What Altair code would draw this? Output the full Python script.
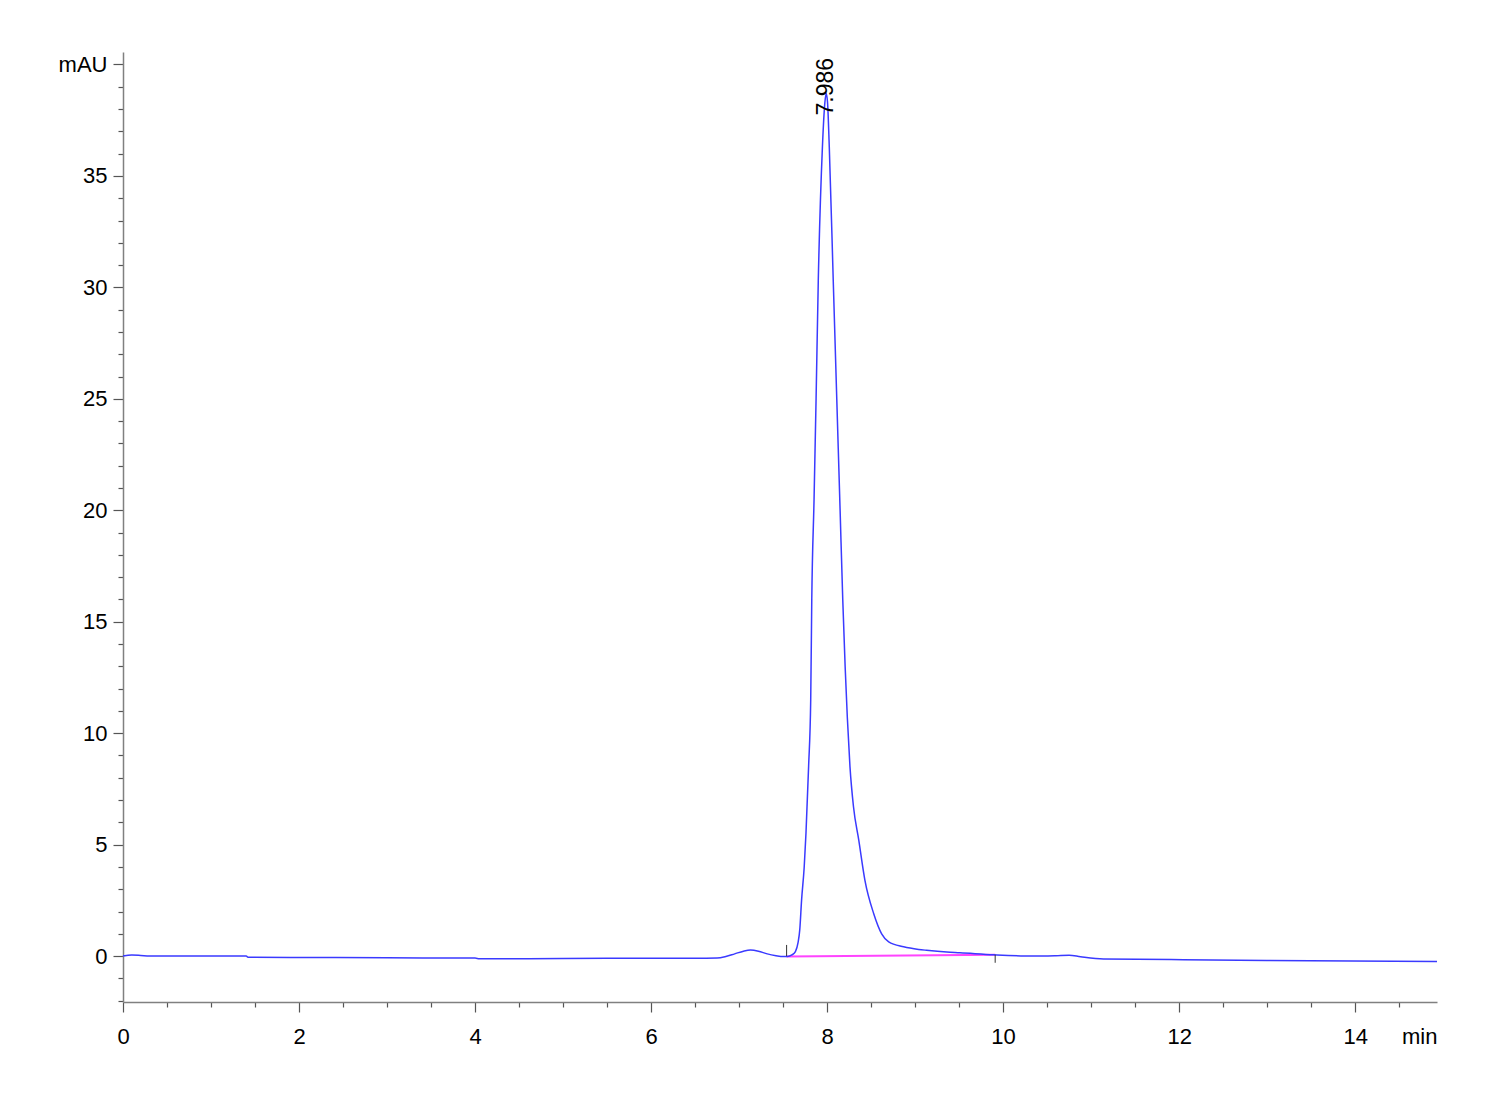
import altair as alt
import pandas as pd

# Chromatogram trace (retention time in min, absorbance in mAU)
rt = [0.00, 0.10, 0.20, 0.30, 1.40, 1.42, 2.0, 3.0, 4.0, 4.05, 5.0, 5.5, 6.0, 6.5,
      6.75, 6.85, 6.95, 7.05, 7.13, 7.22, 7.32, 7.42, 7.50, 7.55, 7.60, 7.64, 7.67,
      7.69, 7.71, 7.74, 7.76, 7.79, 7.814, 7.826, 7.852, 7.875, 7.90, 7.947, 7.975,
      7.99, 8.005, 8.025, 8.07, 8.11, 8.148, 8.178, 8.205, 8.23, 8.26, 8.30, 8.36,
      8.43, 8.53, 8.62, 8.70, 8.87, 9.04, 9.13, 9.36, 9.51, 9.89, 10.34, 10.6, 10.75,
      10.88, 11.14, 12.05, 13.49, 14.93]
mau = [0.00, 0.05, 0.03, 0.00, 0.00, -0.05, -0.06, -0.08, -0.09, -0.12, -0.11, -0.10,
       -0.10, -0.10, -0.09, -0.02, 0.10, 0.22, 0.27, 0.22, 0.10, 0.02, -0.02, -0.02,
       0.05, 0.2, 0.6, 1.2, 2.5, 4.0, 5.5, 8.5, 11.5, 16.0, 20.5, 25.0, 30.3, 36.3,
       38.3, 38.7, 38.3, 36.3, 30.3, 25.0, 20.0, 16.0, 13.0, 10.7, 8.5, 6.7, 5.2,
       3.4, 1.9, 1.0, 0.64, 0.42, 0.30, 0.26, 0.18, 0.15, 0.06, 0.0, 0.02, 0.04, -0.03,
       -0.13, -0.16, -0.21, -0.24]

# Integration baseline and peak markers
base_t = [7.54, 9.91]
base_v = [-0.02, 0.06]
mark_t = [7.54, 9.91]
mark_v1 = [0.0, 0.06]
mark_v2 = [0.5, -0.3]

peak_rt = [7.986]
peak_h = [38.7]
peak_lbl = ["7.986"]

x_ticks = [i * 0.5 for i in range(30)] + [14.93]
y_ticks = list(range(-2, 41))

trace = pd.DataFrame({"t": rt, "v": mau})
base = pd.DataFrame({"t": base_t, "v": base_v})
marks = pd.DataFrame({"t": mark_t, "v1": mark_v1, "v2": mark_v2})
peak = pd.DataFrame({"t": peak_rt, "v": peak_h, "lbl": peak_lbl})

FONT = "Liberation Sans"

xscale = alt.Scale(domain=[0, 14.93], nice=False, zero=False)
yscale = alt.Scale(domain=[-2.06, 40.56], nice=False, zero=False)

xaxis = alt.Axis(
    values=x_ticks, tickCount=200, grid=False, title=None,
    labelExpr="datum.value > 14.8 ? 'min' : (datum.value % 2 === 0 ? format(datum.value, 'd') : '')",
    labelAlign={"condition": {"test": "datum.value > 14.8", "value": "right"}, "value": "center"},
    tickSize={"condition": {"test": "datum.value % 2 === 0 || datum.value > 14.8", "value": 10}, "value": 5},
    tickOpacity={"condition": {"test": "datum.value > 14.8", "value": 0}, "value": 1},
    labelFlush=False, labelOverlap=False, labelPadding=14,
    labelFont=FONT, labelFontSize=22, labelColor="black",
    domainColor="#808080", domainWidth=1.5, tickColor="#555555", tickWidth=1.2,
)
yaxis = alt.Axis(
    values=y_ticks, tickCount=200, grid=False, title=None,
    labelExpr="datum.value === 40 ? 'mAU' : (datum.value % 5 === 0 ? format(datum.value, 'd') : '')",
    tickSize={"condition": {"test": "datum.value % 5 === 0", "value": 10}, "value": 5},
    labelOverlap=False, labelPadding=6, labelFlush=False,
    labelFont=FONT, labelFontSize=22, labelColor="black",
    domainColor="#808080", domainWidth=1.5, tickColor="#555555", tickWidth=1.2,
    minExtent=100, maxExtent=100,
)

baseline = alt.Chart(base).mark_line(color="#ff44ff", strokeWidth=2).encode(
    x=alt.X("t:Q", scale=xscale, axis=xaxis),
    y=alt.Y("v:Q", scale=yscale, axis=yaxis),
)

line = alt.Chart(trace).mark_line(color="#3a3aff", strokeWidth=1.5, interpolate="monotone").encode(
    x=alt.X("t:Q", scale=xscale),
    y=alt.Y("v:Q", scale=yscale),
)

ticks = alt.Chart(marks).mark_rule(color="#333333", strokeWidth=1).encode(
    x=alt.X("t:Q", scale=xscale),
    y=alt.Y("v1:Q", scale=yscale),
    y2="v2:Q",
)

label = alt.Chart(peak).mark_text(
    angle=270, align="left", baseline="middle", dx=-22,
    font=FONT, fontSize=23, color="black",
).encode(
    x=alt.X("t:Q", scale=xscale),
    y=alt.Y("v:Q", scale=yscale),
    text="lbl:N",
)

chart = alt.layer(baseline, line, ticks, label).properties(
    width=1314, height=950,
    padding={"top": 44, "left": 15, "right": 20, "bottom": 10},
).configure_view(stroke=None)

chart.save("out.html", embed_options={"renderer": "svg", "actions": False})
